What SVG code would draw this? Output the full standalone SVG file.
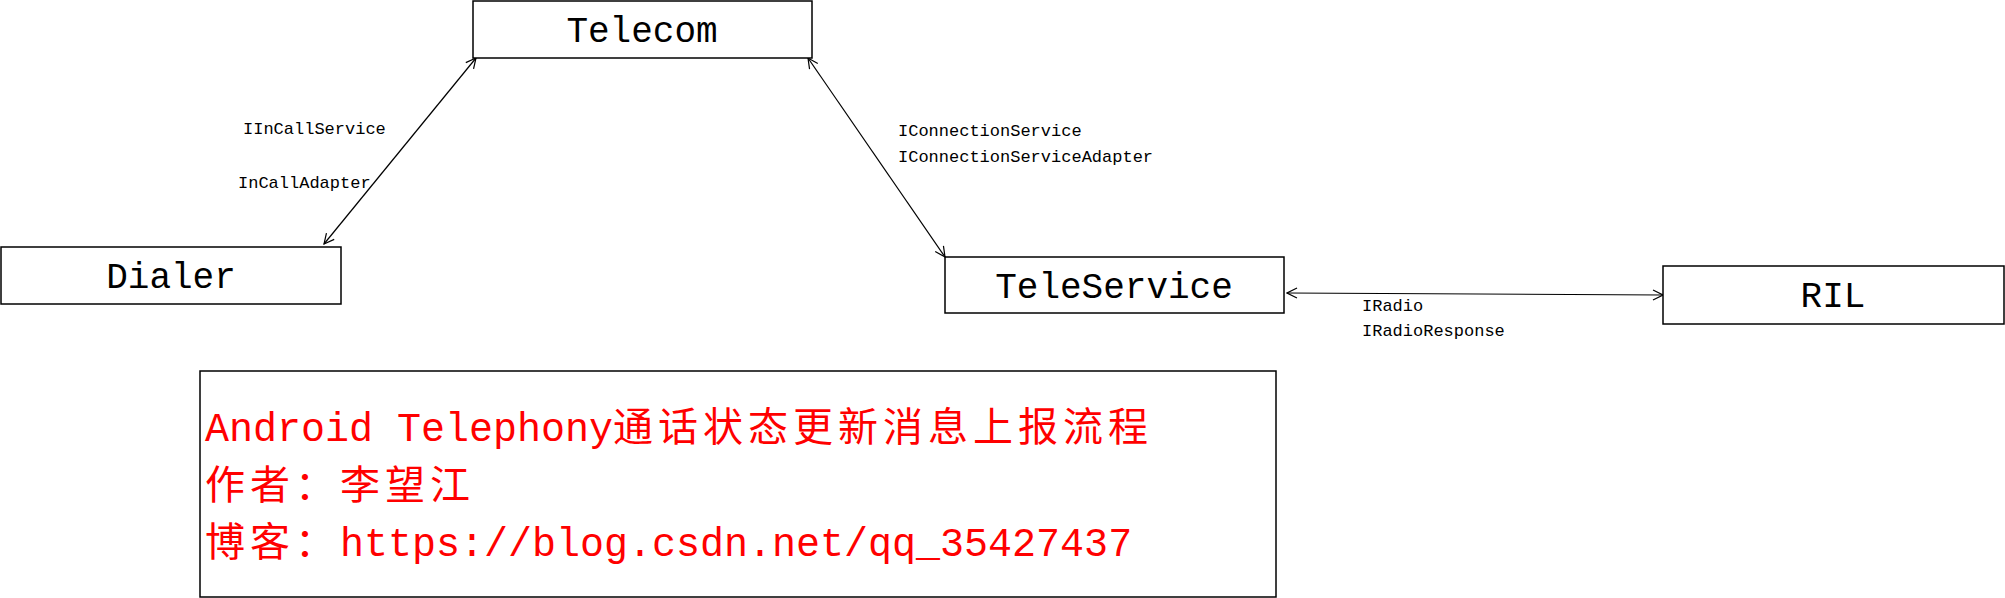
<svg xmlns="http://www.w3.org/2000/svg" width="2005" height="598" viewBox="0 0 2005 598">
<style>
.box{fill:#fff;stroke:#000;stroke-width:1.5}
.nt{font-family:"Liberation Mono","DejaVu Sans Mono",monospace;font-size:36px;text-anchor:middle}
.lb{font-family:"Liberation Mono","DejaVu Sans Mono",monospace;font-size:17px}
.red{font-family:"Liberation Mono","Noto Sans CJK SC",monospace;font-size:40px;fill:#f00}
.cj{letter-spacing:5px}
.cn{stroke:#000;stroke-width:1.2;fill:none;marker-start:url(#a);marker-end:url(#a)}
</style>
<defs><marker id="a" viewBox="0 0 12 12" refX="11" refY="6" markerWidth="12" markerHeight="12" markerUnits="userSpaceOnUse" orient="auto-start-reverse"><path d="M1,1 L11,6 L1,11" fill="none" stroke="#000" stroke-width="1.2"/></marker></defs>
<rect width="2005" height="598" fill="#fff"/>
<g id="connectors">
<line class="cn" x1="324" y1="244" x2="476" y2="58"/>
<line class="cn" x1="808" y1="58" x2="945" y2="257"/>
<line class="cn" x1="1287" y1="293" x2="1663" y2="295"/>
<text class="lb" x="243" y="134">IInCallService</text>
<text class="lb" x="238" y="188">InCallAdapter</text>
<text class="lb" x="898" y="136">IConnectionService</text>
<text class="lb" x="898" y="162">IConnectionServiceAdapter</text>
<text class="lb" x="1362" y="311">IRadio</text>
<text class="lb" x="1362" y="336">IRadioResponse</text>
</g>
<g id="telecom"><rect class="box" x="473" y="1" width="339" height="57"/><text class="nt" x="642" y="42">Telecom</text></g>
<g id="dialer"><rect class="box" x="1" y="247" width="340" height="57"/><text class="nt" x="171" y="288">Dialer</text></g>
<g id="teleservice"><rect class="box" x="945" y="257" width="339" height="56"/><text class="nt" x="1114" y="298">TeleService</text></g>
<g id="ril"><rect class="box" x="1663" y="266" width="341" height="58"/><text class="nt" x="1833" y="307">RIL</text></g>
<g id="note"><rect class="box" x="200" y="371" width="1076" height="226"/>
<text class="red" x="205" y="441">Android Telephony<tspan class="cj">通话状态更新消息上报流程</tspan></text>
<text class="red cj" x="205" y="499">作者：李望江</text>
<text class="red" x="205" y="556"><tspan class="cj">博客：</tspan>https://blog.csdn.net/qq_35427437</text>
</g>
</svg>
